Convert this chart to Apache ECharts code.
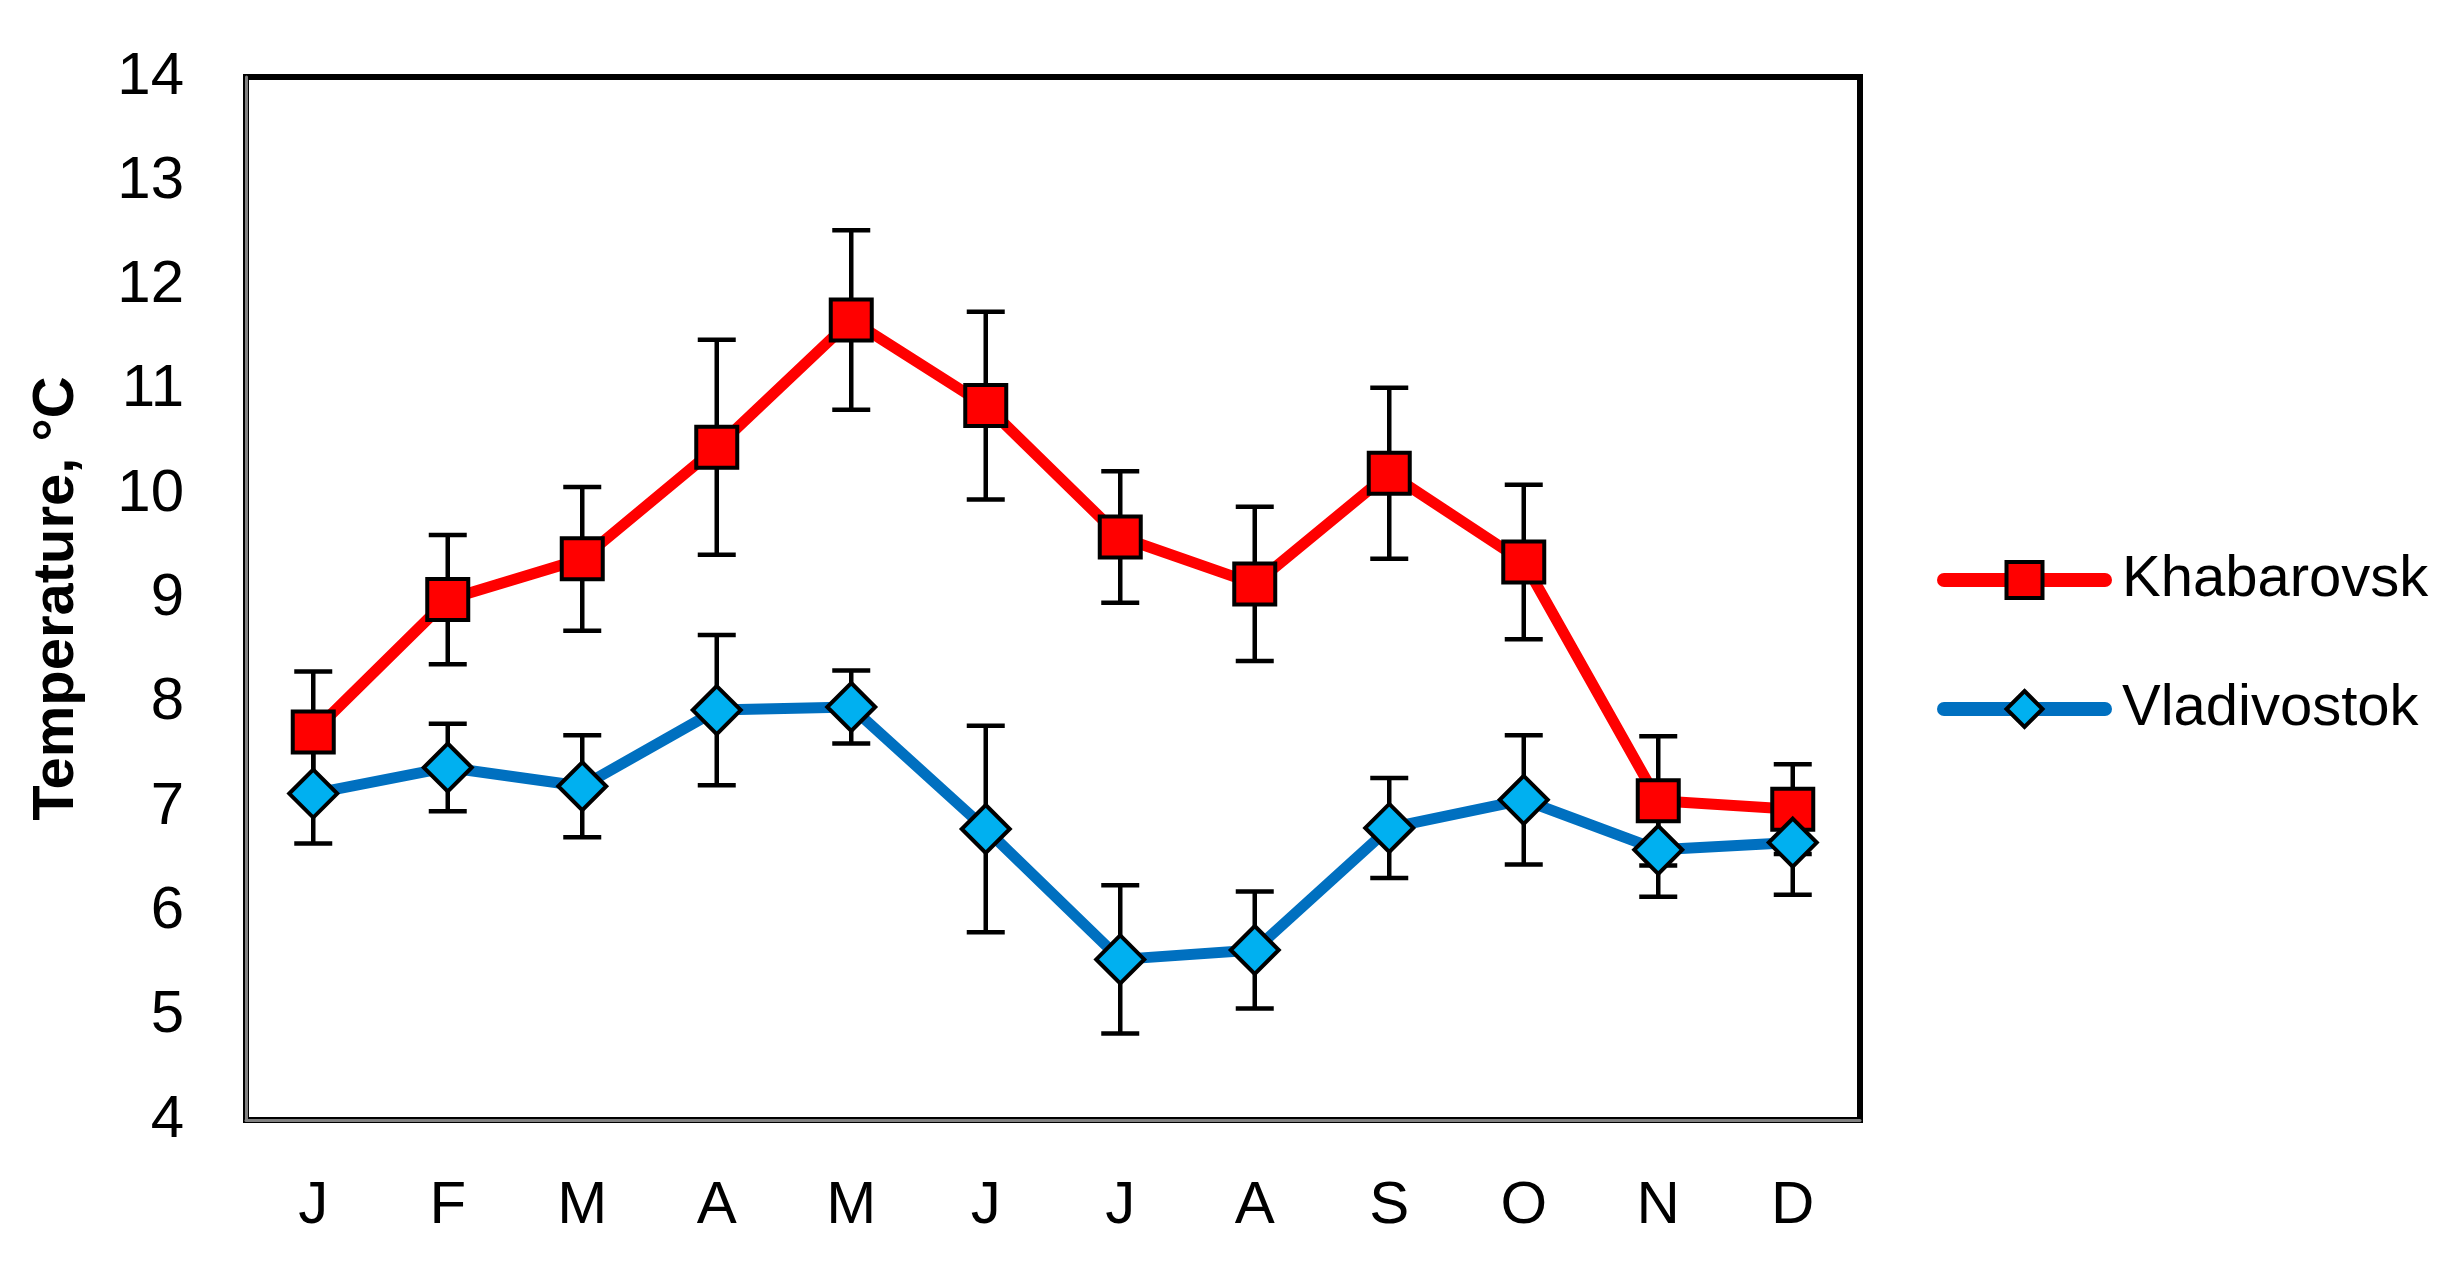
<!DOCTYPE html>
<html>
<head>
<meta charset="utf-8">
<script src="https://cdn.jsdelivr.net/npm/echarts@6/dist/echarts.min.js"></script>
<style>
html,body{margin:0;padding:0;background:#fff;}
#chart{width:2448px;height:1275px;}
</style>
</head>
<body>
<div id="chart"></div>
<script>
const months = ['J','F','M','A','M','J','J','A','S','O','N','D'];
const yTicks = [4, 14, 1]; // min, max, interval
const khabarovsk = [7.72, 8.99, 9.38, 10.45, 11.67, 10.85, 9.59, 9.14, 10.20, 9.35, 7.06, 6.98];
const khabarovskErr = [0.58, 0.62, 0.69, 1.03, 0.86, 0.90, 0.63, 0.74, 0.82, 0.74, 0.62, 0.43];
const vladivostok = [7.13, 7.38, 7.20, 7.93, 7.96, 6.79, 5.54, 5.63, 6.80, 7.07, 6.59, 6.66];
const vladivostokErr = [0.48, 0.42, 0.49, 0.72, 0.35, 0.99, 0.71, 0.56, 0.48, 0.62, 0.45, 0.50];

const FONT = '"Liberation Sans", Arial, sans-serif';

function errData(mean, err) {
  return mean.map((v, i) => [i, v - err[i], v + err[i]]);
}

function renderErr(params, api) {
  const x = api.value(0), lo = api.value(1), hi = api.value(2);
  const pLo = api.coord([x, lo]);
  const pHi = api.coord([x, hi]);
  const w = 19;
  const st = { stroke: '#000', lineWidth: 4.5 };
  return {
    type: 'group',
    children: [
      { type: 'line', shape: { x1: pLo[0], y1: pLo[1], x2: pHi[0], y2: pHi[1] }, style: st },
      { type: 'line', shape: { x1: pLo[0] - w, y1: pLo[1], x2: pLo[0] + w, y2: pLo[1] }, style: st },
      { type: 'line', shape: { x1: pHi[0] - w, y1: pHi[1], x2: pHi[0] + w, y2: pHi[1] }, style: st }
    ]
  };
}

const chart = echarts.init(document.getElementById('chart'), null, { renderer: 'canvas' });
chart.setOption({
  animation: false,
  backgroundColor: '#fff',
  grid: {
    left: 246, right: 588, top: 77, bottom: 155,
    show: true, borderColor: '#000', borderWidth: 6, backgroundColor: 'transparent'
  },
  legend: {
    orient: 'vertical',
    left: 1932,
    top: 546,
    itemWidth: 161,
    itemHeight: 45,
    itemGap: 71,
    data: ['Khabarovsk', 'Vladivostok'],
    lineStyle: { width: 14, cap: 'round' },
    itemStyle: { borderColor: '#000', borderWidth: 4 },
    textStyle: { fontFamily: FONT, fontSize: 58, color: '#000', lineHeight: 45, padding: [0, 0, 0, 12] }
  },
  xAxis: {
    type: 'category',
    data: months,
    boundaryGap: true,
    axisLine: { show: true, lineStyle: { color: '#808080', width: 3 } },
    axisTick: { show: false },
    axisLabel: { fontFamily: FONT, fontSize: 60, color: '#000', margin: 56, lineHeight: 60 },
    splitLine: { show: false }
  },
  yAxis: {
    type: 'value',
    min: yTicks[0], max: yTicks[1], interval: yTicks[2],
    axisLine: { show: true, lineStyle: { color: '#808080', width: 3 } },
    axisTick: { show: false },
    splitLine: { show: false },
    axisLabel: { fontFamily: FONT, fontSize: 60, color: '#000', margin: 62 },
    name: 'Temperature, °C',
    nameLocation: 'middle',
    nameRotate: 90,
    nameGap: 160,
    nameTextStyle: { fontFamily: FONT, fontSize: 58, fontWeight: 'bold', color: '#000' }
  },
  series: [
    {
      name: 'VladErr', type: 'custom', renderItem: renderErr,
      data: errData(vladivostok, vladivostokErr),
      encode: { x: 0, y: [1, 2] }, silent: true
    },
    {
      name: 'KhabErr', type: 'custom', renderItem: renderErr,
      data: errData(khabarovsk, khabarovskErr),
      encode: { x: 0, y: [1, 2] }, silent: true
    },
    {
      name: 'Khabarovsk', type: 'line', data: khabarovsk,
      symbol: 'rect', symbolSize: 41,
      lineStyle: { color: '#FF0000', width: 11, join: 'round' },
      itemStyle: { color: '#FF0000', borderColor: '#000', borderWidth: 4 },
      emphasis: { disabled: true }
    },
    {
      name: 'Vladivostok', type: 'line', data: vladivostok,
      symbol: 'diamond', symbolSize: 48,
      lineStyle: { color: '#0070C0', width: 11, join: 'round' },
      itemStyle: { color: '#00B0F0', borderColor: '#000', borderWidth: 4 },
      emphasis: { disabled: true }
    }
  ]
});
</script>
</body>
</html>
